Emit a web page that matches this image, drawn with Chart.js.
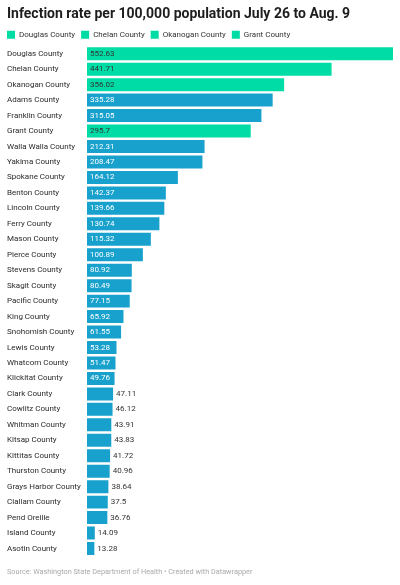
<!DOCTYPE html>
<html>
<head>
<meta charset="utf-8">
<script src="https://cdn.jsdelivr.net/npm/chart.js@4.4.1/dist/chart.umd.min.js"></script>
<style>
  html, body { margin: 0; padding: 0; background: #fff; }
  #wrap { width: 400px; height: 585px; position: relative; }
</style>
</head>
<body>
<div id="wrap"><canvas id="infectionChart"></canvas></div>
<script>
"use strict";

var counties = [
    "Douglas County", "Chelan County", "Okanogan County", "Adams County", "Franklin County",
    "Grant County", "Walla Walla County", "Yakima County", "Spokane County", "Benton County",
    "Lincoln County", "Ferry County", "Mason County", "Pierce County", "Stevens County",
    "Skagit County", "Pacific County", "King County", "Snohomish County", "Lewis County",
    "Whatcom County", "Klickitat County", "Clark County", "Cowlitz County", "Whitman County",
    "Kitsap County", "Kittitas County", "Thurston County", "Grays Harbor County", "Clallam County",
    "Pend Oreille", "Island County", "Asotin County"
];
var rates = [
    552.63, 441.71, 356.02, 335.28, 315.05,
    295.7, 212.31, 208.47, 164.12, 142.37,
    139.66, 130.74, 115.32, 100.89, 80.92,
    80.49, 77.15, 65.92, 61.55, 53.28,
    51.47, 49.76, 47.11, 46.12, 43.91,
    43.83, 41.72, 40.96, 38.64, 37.5,
    36.76, 14.09, 13.28
];
var highlighted = ["Douglas County", "Chelan County", "Okanogan County", "Grant County"];

var GREEN = "#00dca6";
var BLUE = "#18a1cd";

function isHighlighted(i) {
    return highlighted.indexOf(counties[i]) !== -1;
}

// value labels: inside the bar when it fits, otherwise just past its end
var valueLabels = {
    id: "valueLabels",
    afterDatasetsDraw: function (chart) {
        var ctx = chart.ctx;
        var meta = chart.getDatasetMeta(0);
        ctx.save();
        ctx.font = "8px Roboto";
        ctx.textBaseline = "middle";
        ctx.textAlign = "left";
        meta.data.forEach(function (bar, i) {
            var text = String(rates[i]);
            var w = ctx.measureText(text).width;
            if (bar.x - bar.base > w + 7) {
                ctx.fillStyle = isHighlighted(i) ? "#333" : "#fff";
                ctx.fillText(text, bar.base + 3, bar.y);
            } else {
                ctx.fillStyle = "#333";
                ctx.fillText(text, bar.x + 3, bar.y);
            }
        });
        ctx.restore();
    }
};

// line the first legend swatch up with the title
var legendShift = {
    id: "legendShift",
    afterLayout: function (chart) {
        var p = chart.legend.options.labels.padding;
        chart.legend.left -= p;
        chart.legend.right -= p;
    }
};

var ctx = document.getElementById("infectionChart");
var myChart = new Chart(ctx, {
    type: "bar",
    data: {
        labels: counties,
        datasets: [{
            data: rates,
            backgroundColor: counties.map(function (c, i) { return isHighlighted(i) ? GREEN : BLUE; }),
            borderWidth: 0,
            barPercentage: 0.84,
            categoryPercentage: 1
        }]
    },
    options: {
        indexAxis: "y",
        responsive: true,
        maintainAspectRatio: false,
        animation: false,
        layout: {
            padding: { left: 7, right: 7, top: 0, bottom: 0 }
        },
        scales: {
            x: {
                display: false,
                min: 0,
                max: Math.max.apply(null, rates)
            },
            y: {
                grid: { display: false },
                border: { display: false },
                ticks: {
                    autoSkip: false,
                    crossAlign: "far",
                    padding: 0,
                    color: "#2a2a2a",
                    font: { family: "Roboto", size: 8 }
                },
                afterFit: function (scale) {
                    scale.width = 80;
                }
            }
        },
        plugins: {
            title: {
                display: true,
                text: "Infection rate per 100,000 population July 26 to Aug. 9",
                align: "start",
                color: "#1d1d1d",
                font: { family: "Roboto", size: 14, weight: "bold" },
                padding: { top: 6, bottom: 2 }
            },
            legend: {
                position: "top",
                align: "start",
                maxHeight: 21.2,
                onClick: null,
                labels: {
                    boxWidth: 8,
                    boxHeight: 8,
                    padding: 6,
                    color: "#333",
                    font: { family: "Roboto", size: 8 },
                    generateLabels: function () {
                        return highlighted.map(function (name) {
                            return {
                                text: name,
                                fillStyle: GREEN,
                                strokeStyle: GREEN,
                                lineWidth: 0,
                                hidden: false,
                                fontColor: "#333"
                            };
                        });
                    }
                }
            },
            subtitle: {
                display: true,
                position: "bottom",
                align: "start",
                text: "Source: Washington State Department of Health \u2022 Created with Datawrapper",
                color: "#aaa",
                font: { family: "Roboto", size: 7.3 },
                padding: { top: 12, bottom: 8 }
            },
            tooltip: { enabled: false }
        }
    },
    plugins: [valueLabels, legendShift]
});
</script>
</body>
</html>
